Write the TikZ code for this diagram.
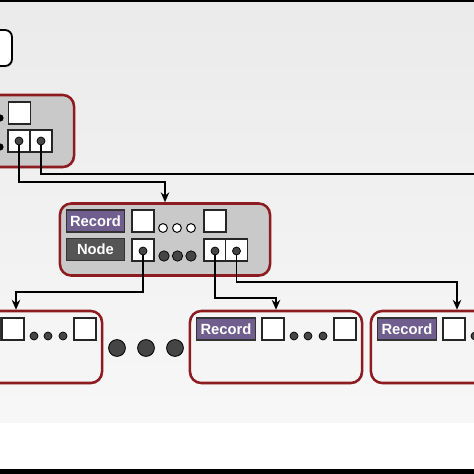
\documentclass[tikz,border=0pt]{standalone}
\usepackage{fontspec}
\setsansfont{Liberation Sans}
\usetikzlibrary{arrows.meta, calc, shadows}

\definecolor{nodered}{HTML}{8E1B1F}
\definecolor{nodegray}{HTML}{C9C9C9}
\definecolor{recpurple}{HTML}{6F5E8E}
\definecolor{tagdark}{HTML}{555555}
\definecolor{dotgray}{HTML}{454545}

\begin{document}
\begin{tikzpicture}[
    x=0.025cm, y=-0.025cm,
    >={Stealth[length=7pt, width=6pt]},
    tnode/.style={draw=nodered, line width=1.8pt, rounded corners=8pt, fill=nodegray,
                  minimum height=1.8cm,
                  drop shadow={shadow xshift=0.7pt, shadow yshift=-0.9pt, opacity=0.25}},
    leaf/.style={tnode, fill=black!4, minimum width=4.3cm},
    slot/.style={draw=black!85, fill=white, line width=0.9pt, minimum size=0.55cm, inner sep=0pt},
    tag/.style={draw=black!80, line width=0.8pt, text=white, inner sep=0pt,
                font=\sffamily\bfseries\fontsize{10.5}{12}\selectfont,
                minimum width=1.47cm, minimum height=0.55cm},
    pdot/.style={circle, fill=dotgray, draw=black, line width=0.5pt, inner sep=0pt, minimum size=0.2cm},
    hdot/.style={circle, fill=white, draw=black, line width=0.7pt, inner sep=0pt, minimum size=0.22cm},
    bigdot/.style={circle, fill=dotgray, draw=black, line width=0.6pt, inner sep=0pt, minimum size=0.42cm},
    conn/.style={line width=1.3pt},
    arr/.style={conn, ->},
]
\clip (0,0) rectangle (474,474);

% ---- Background ----
\fill[black] (0,0) rectangle (474,2.5);
\shade[top color=black!8, bottom color=black!3] (0,2.5) rectangle (474,423);
\fill[white] (0,423) rectangle (474,468.5);
\fill[black] (0,468.5) rectangle (474,474);

% ---- Upper node (cut off) ----
\node[draw=black, line width=1.3pt, fill=white, rounded corners=5pt, minimum width=2.8cm,
      minimum height=0.9cm, drop shadow={shadow xshift=0.7pt, shadow yshift=-0.9pt, opacity=0.25}]
      (upper) at (-44,48) {};

% ---- Root ----
\node[tnode, minimum width=5.6cm] (root) at (-38,131) {};
\node[slot] (rr) at (19.5,113) {};
\node[slot] (ra) at (19,141) {};
\node[slot] (rb) at (41,141) {};
\node[pdot, fill=black, minimum size=0.16cm] (rrdot) at (0,118) {};
\node[pdot, fill=black, minimum size=0.16cm] (rndot) at (0,147) {};

% ---- Middle node ----
\node[tnode, minimum width=5.25cm] (mid) at (165,239.5) {};
\node[tag, fill=recpurple] (mrec) at (95.5,221) {Record};
\node[tag, fill=tagdark] (mnode) at (95.5,249.5) {Node};
\node[slot] (mr1) at (143,221) {};
\node[slot] (mr2) at (215,221) {};
\node[slot] (mn1) at (143,250) {};
\node[slot] (mn2) at (215,250) {};
\node[slot] (mn3) at (236.5,250) {};
\node[hdot] (mh1) at (163,228) {};
\node[hdot] (mh2) at (177,228) {};
\node[hdot] (mh3) at (191,228) {};
\node[pdot, minimum size=0.26cm] (mf1) at (164,256) {};
\node[pdot, minimum size=0.26cm] (mf2) at (177.5,256) {};
\node[pdot, minimum size=0.26cm] (mf3) at (191,256) {};

% ---- Leaves ----
\node[leaf] (lfa) at (16,347) {};
\node[leaf] (lfb) at (276,347) {};
\node[leaf] (lfc) at (457,347) {};

% left leaf (label cut off by the edge)
\node[tag, fill=recpurple] (arec) at (-29,329) {};
\node[slot] (as1) at (13,329) {};
\node[slot] (as2) at (85,329) {};
\node[pdot, minimum size=0.2cm] (ad1) at (34,336) {};
\node[pdot, minimum size=0.2cm] (ad2) at (48,336) {};
\node[pdot, minimum size=0.2cm] (ad3) at (63,336) {};

% middle leaf
\node[tag, fill=recpurple] (brec) at (226,329) {Record};
\node[slot] (bs1) at (273,329) {};
\node[slot] (bs2) at (345,329) {};
\node[pdot, minimum size=0.2cm] (bd1) at (294,336) {};
\node[pdot, minimum size=0.2cm] (bd2) at (308,336) {};
\node[pdot, minimum size=0.2cm] (bd3) at (323,336) {};

% right leaf
\node[tag, fill=recpurple] (crec) at (407,329) {Record};
\node[slot] (cs1) at (454,329) {};
\node[pdot, minimum size=0.2cm] (cd1) at (475,336) {};

% ---- Gap between leaves ----
\node[bigdot] (gap1) at (117,348) {};
\node[bigdot] (gap2) at (146,348) {};
\node[bigdot] (gap3) at (175,348) {};

% ---- Pointers ----
\coordinate (exit) at (480,174);
\draw[arr] (ra.center) -- ++(0,41) -| (mid.north);
\draw[conn] (rb.center) |- (exit);
\draw[arr] (mn1.center) -- ++(0,42) -| (lfa.north);
\draw[arr] (mn2.center) -- ++(0,48) -| (lfb.north);
\draw[arr] (mn3.center) -- ++(0,32) -| (lfc.north);

% pointer heads on top
\node[pdot] (rad) at (ra.center) {};
\node[pdot] (rbd) at (rb.center) {};
\node[pdot] (mn1d) at (143,251) {};
\node[pdot] (mn2d) at (215,251) {};
\node[pdot] (mn3d) at (236.5,251) {};

\end{tikzpicture}
\end{document}
